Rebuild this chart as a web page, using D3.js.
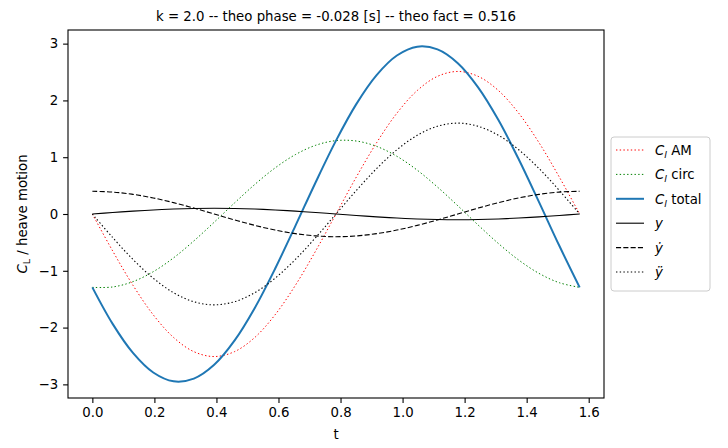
<!DOCTYPE html>
<html>
<head>
<meta charset="utf-8">
<script src="https://cdn.jsdelivr.net/npm/d3@7"></script>
<style>
  body { margin: 0; background: #fff; }
  svg text { font-family: "DejaVu Sans", sans-serif; fill: #000; }
</style>
</head>
<body>
<div id="chart"></div>
<script>
// sample times (0 .. pi/2)
const tVals = [0, 0.0654, 0.1309, 0.1963, 0.2618, 0.3272, 0.3927, 0.4581, 0.5236, 0.5890, 0.6545, 0.7199,
  0.7854, 0.8508, 0.9163, 0.9817, 1.0472, 1.1126, 1.1781, 1.2435, 1.3090, 1.3744, 1.4399, 1.5053, 1.5708]

const clAM = [0, -0.650, -1.255, -1.775, -2.174, -2.424, -2.51, -2.424, -2.174, -1.775, -1.255, -0.650,
  0, 0.650, 1.255, 1.775, 2.174, 2.424, 2.51, 2.424, 2.174, 1.775, 1.255, 0.650, 0]
const clCirc = [-1.292, -1.285, -1.191, -1.016, -0.772, -0.474, -0.145, 0.194, 0.520, 0.811, 1.046, 1.210,
  1.292, 1.285, 1.191, 1.016, 0.772, 0.474, 0.145, -0.194, -0.520, -0.811, -1.046, -1.210, -1.292]
const clTotal = [-1.292, -1.935, -2.446, -2.791, -2.946, -2.898, -2.655, -2.230, -1.654, -0.964, -0.209, 0.560,
  1.292, 1.935, 2.446, 2.791, 2.946, 2.898, 2.655, 2.230, 1.654, 0.964, 0.209, -0.560, -1.292]
const yPos = [0, 0.026, 0.05, 0.071, 0.087, 0.097, 0.1, 0.097, 0.087, 0.071, 0.05, 0.026,
  0, -0.026, -0.05, -0.071, -0.087, -0.097, -0.1, -0.097, -0.087, -0.071, -0.05, -0.026, 0]
const yVel = [0.4, 0.386, 0.346, 0.283, 0.2, 0.104, 0, -0.104, -0.2, -0.283, -0.346, -0.386,
  -0.4, -0.386, -0.346, -0.283, -0.2, -0.104, 0, 0.104, 0.2, 0.283, 0.346, 0.386, 0.4]
const yAcc = [0, -0.414, -0.8, -1.131, -1.386, -1.545, -1.6, -1.545, -1.386, -1.131, -0.8, -0.414,
  0, 0.414, 0.8, 1.131, 1.386, 1.545, 1.6, 1.545, 1.386, 1.131, 0.8, 0.414, 0]

const xTicks = [0, 0.2, 0.4, 0.6, 0.8, 1.0, 1.2, 1.4, 1.6]
const yTicks = [-3, -2, -1, 0, 1, 2, 3]

const titleText = "k = 2.0 -- theo phase = -0.028 [s] -- theo fact = 0.516"

const series = [
  {vals: clAM, label: ["C", "l", " AM"], color: "red", width: 1, dash: "1.4 2.3"},
  {vals: clCirc, label: ["C", "l", " circ"], color: "green", width: 1, dash: "1.4 2.3"},
  {vals: clTotal, label: ["C", "l", " total"], color: "#1f77b4", width: 2, dash: null},
  {vals: yPos, label: ["y"], color: "#000", width: 1.1, dash: null},
  {vals: yVel, label: ["ẏ"], color: "#000", width: 1.1, dash: "5.1 2.2"},
  {vals: yAcc, label: ["ÿ"], color: "#000", width: 1.1, dash: "1.4 2.3"}
]

drawChart("#chart")

function drawChart(id){
  const canvas = {width: 728, height: 448, margin: {top: 30, right: 124, bottom: 50, left: 68}}
  const svg = d3.select(id).append("svg").attr("width", canvas.width).attr("height", canvas.height)
  const sc = addScales(canvas)

  addLines(svg, sc)
  addAxes(svg, sc, canvas)
  addLabels(svg, canvas)
  addLegend(svg)
}

function addScales(canvas){
  const xScale = d3.scaleLinear().domain([-0.0785, 1.6493])
    .range([canvas.margin.left, canvas.width - canvas.margin.right])
  const yScale = d3.scaleLinear().domain([-3.24, 3.24])
    .range([canvas.height - canvas.margin.bottom, canvas.margin.top])
  return {xScale, yScale}
}

function addLines(svg, sc){
  const clip = svg.append("clipPath").attr("id", "clip").append("rect")
    .attr("x", sc.xScale.range()[0]).attr("y", sc.yScale.range()[1])
    .attr("width", sc.xScale.range()[1] - sc.xScale.range()[0])
    .attr("height", sc.yScale.range()[0] - sc.yScale.range()[1])

  series.forEach(s => {
    const line = d3.line().curve(d3.curveCatmullRom.alpha(0.5))
      .x((d, i) => sc.xScale(tVals[i])).y(d => sc.yScale(d))
    svg.append("path").datum(s.vals).attr("clip-path", "url(#clip)")
      .attr("fill", "none").attr("stroke", s.color).attr("stroke-width", s.width)
      .attr("stroke-dasharray", s.dash).attr("d", line)
  })
}

function addAxes(svg, sc, canvas){
  const bottom = canvas.height - canvas.margin.bottom
  const gx = svg.append("g").attr("transform", `translate(0, ${bottom})`)
    .call(d3.axisBottom(sc.xScale).tickValues(xTicks).tickFormat(d3.format(".1f")).tickSizeOuter(0).tickSize(4.9).tickPadding(4.9))
  const gy = svg.append("g").attr("transform", `translate(${canvas.margin.left},0)`)
    .call(d3.axisLeft(sc.yScale).tickValues(yTicks).tickFormat(d => d < 0 ? "\u2212" + Math.abs(d) : d).tickSizeOuter(0).tickSize(4.9).tickPadding(4.9))

  ;[gx, gy].forEach(g => {
    g.select(".domain").remove()
    g.selectAll(".tick line").attr("stroke", "#000").attr("stroke-width", 1.1)
    g.selectAll(".tick text").attr("font-size", "13.3px").attr("font-family", "DejaVu Sans")
  })

  const [x0, x1] = sc.xScale.range()
  const [y1, y0] = sc.yScale.range()
  svg.append("rect").attr("x", x0).attr("y", y0).attr("width", x1 - x0).attr("height", y1 - y0)
    .attr("fill", "none").attr("stroke", "#000").attr("stroke-width", 1.1)
}

function addLabels(svg, canvas){
  const cx = canvas.margin.left + (canvas.width - canvas.margin.left - canvas.margin.right) / 2
  svg.append("text").attr("x", cx).attr("y", 21).attr("text-anchor", "middle")
    .attr("font-size", "13.3px").text(titleText)

  svg.append("text").attr("x", cx).attr("y", 439).attr("text-anchor", "middle")
    .attr("font-size", "13.3px").text("t")

  const yl = svg.append("text").attr("transform", `translate(27, ${(canvas.margin.top + canvas.height - canvas.margin.bottom) / 2}) rotate(-90)`)
    .attr("text-anchor", "middle").attr("font-size", "13.3px")
  yl.append("tspan").attr("font-style", "italic").text("C")
  yl.append("tspan").attr("font-size", "9.5px").attr("dy", 3).text("L")
  yl.append("tspan").attr("dy", -3).text(" / heave motion")
}

function addLegend(svg){
  const lx = 611, ly = 137, rowH = 24.4
  svg.append("rect").attr("x", lx).attr("y", ly).attr("width", 99).attr("height", 154)
    .attr("rx", 3).attr("fill", "#fff").attr("stroke", "#ccc").attr("stroke-width", 1)

  series.forEach((s, i) => {
    const y = ly + 13 + i * rowH
    svg.append("line").attr("x1", lx + 5).attr("x2", lx + 33).attr("y1", y).attr("y2", y)
      .attr("stroke", s.color).attr("stroke-width", s.width).attr("stroke-dasharray", s.dash)
    const t = svg.append("text").attr("x", lx + 44).attr("y", y + 5).attr("font-size", "13.3px")
    t.append("tspan").attr("font-style", "italic").text(s.label[0])
    if(s.label.length > 1){
      t.append("tspan").attr("font-style", "italic").attr("font-size", "9.5px").attr("dy", 3).text(s.label[1])
      t.append("tspan").attr("dy", -3).text(s.label[2])
    }
  })
}
</script>
</body>
</html>
